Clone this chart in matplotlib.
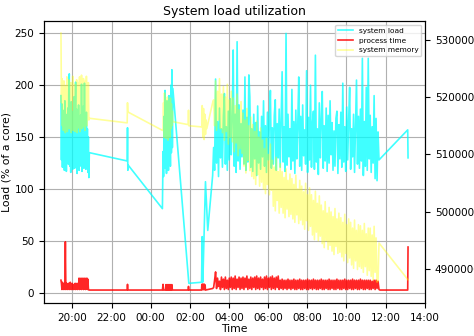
import pandas as pd
import matplotlib
matplotlib.use("Agg")
import matplotlib.pyplot as plt
import matplotlib.dates as mdates
from matplotlib.ticker import MultipleLocator

plt.rcParams['font.family'] = ['DejaVu Sans']
plt.rcParams['font.size'] = 7.5

# dense sampling blocks (start, number of samples, step)
block_a = ("2019-03-04 19:25", 59, "90s")
block_b = ("2019-03-05 00:38", 21, "90s")
block_c = ("2019-03-05 03:13", 170, "3min")

# ---- system load (% of a core) ----
load_a = [190, 128, 182, 121, 176, 134, 168, 118, 185, 126,
          172, 117, 160, 130, 178, 124, 195, 211, 122, 170,
          116, 184, 129, 165, 119, 175, 132, 189, 120, 168,
          203, 125, 177, 115, 162, 131, 181, 118, 158, 127,
          171, 122, 201, 117, 166, 134, 180, 120, 202, 126,
          163, 119, 174, 129, 158, 116, 150, 111, 135]
load_gap_t = ["22:48", "22:49", "22:50", "22:51", "00:36"]
load_gap = [127, 159, 118, 123, 81]
load_b = [136, 112, 170, 120, 195, 125, 160, 115, 185, 130,
          175, 118, 190, 128, 165, 122, 200, 135, 215, 140, 197]
load_mid_t = ["01:57", "02:36", "02:38", "02:39", "02:40", "02:48", "02:55", "03:10"]
load_mid = [9, 10, 54, 10, 11, 107, 60, 113]
load_c = [140, 118, 206, 125, 165, 112, 178, 130, 158, 121,
          170, 192, 124, 160, 118, 175, 128, 187, 133, 168,
          234, 122, 172, 116, 242, 127, 181, 119, 163, 131,
          176, 124, 208, 118, 169, 126, 210, 189, 121, 158,
          117, 172, 129, 164, 113, 180, 125, 155, 119, 170,
          131, 185, 122, 161, 116, 174, 128, 166, 195, 120,
          159, 124, 171, 186, 118, 163, 130, 177, 121, 168,
          213, 126, 160, 117, 250, 123, 172, 131, 158, 119,
          196, 127, 165, 115, 176, 129, 162, 208, 122, 170,
          118, 181, 132, 157, 124, 214, 116, 169, 128, 200,
          121, 163, 175, 119, 229, 126, 158, 114, 183, 130,
          167, 194, 120, 161, 127, 178, 117, 171, 125, 185,
          133, 164, 118, 156, 122, 168, 175, 115, 162, 129,
          174, 121, 202, 126, 160, 117, 179, 128, 166, 198,
          119, 158, 131, 172, 116, 163, 205, 124, 170, 120,
          177, 127, 226, 113, 165, 122, 198, 118, 226, 129,
          171, 116, 160, 125, 190, 110, 168, 108, 155, 128]
load_end_t = ["13:08", "13:09"]
load_end = [157, 130]

# ---- process time (% of a core) ----
proc_a = [12, 9, 3, 10, 4, 8, 3, 9, 4, 49,
          3, 9, 4, 8, 3, 9, 5, 7, 3, 10,
          4, 8, 3, 9, 5, 7, 3, 8, 4, 9,
          3, 8, 4, 9, 3, 8, 5, 14, 3, 13,
          4, 14, 3, 13, 5, 14, 3, 12, 4, 14,
          3, 13, 4, 14, 3, 13, 4, 2.5, 2.5]
proc_gap_t = ["22:48", "22:49", "22:50", "00:36"]
proc_gap = [2.5, 8, 2.5, 2.5]
proc_b = [8, 2.5, 2.5, 2.5, 2.5, 2.5, 7.7, 2.5, 7.7, 2.5,
          7.7, 2.5, 7.7, 2.5, 7.7, 2.5, 7.7, 2.5, 7.7, 2.5, 2.5]
proc_mid_t = ["01:55", "01:56", "01:57", "02:36", "02:37", "02:38", "02:39",
              "02:40", "02:41", "02:42", "02:43", "02:44", "02:45", "02:46",
              "02:47", "02:48", "03:10"]
proc_mid = [2.5, 6, 2.5, 2.5, 8, 3, 8, 3, 8, 3, 8, 3, 8, 3, 7, 2.5, 4]
proc_c = [5, 12, 20, 4, 14, 6, 11, 3, 15, 5,
          13, 3, 15, 4, 12, 3, 14, 5, 15, 3,
          14, 4, 16, 3, 13, 5, 15, 3, 14, 4,
          15, 3, 14, 5, 16, 3, 13, 4, 15, 3,
          14, 5, 15, 3, 16, 4, 14, 3, 15, 5,
          13, 3, 15, 4, 16, 3, 14, 5, 15, 3,
          16, 4, 14, 3, 15, 5, 16, 3, 12, 4,
          13, 3, 12, 4, 12, 3, 13, 4, 12, 3,
          12, 4, 13, 3, 12, 3, 12, 4, 13, 3,
          12, 3, 12, 4, 12, 3, 13, 3, 12, 4,
          12, 3, 13, 4, 12, 3, 12, 3, 12, 4,
          13, 3, 12, 3, 12, 4, 12, 3, 13, 3,
          12, 4, 12, 3, 12, 3, 13, 4, 12, 3,
          12, 3, 12, 4, 13, 3, 12, 3, 12, 4,
          12, 3, 13, 3, 12, 4, 12, 3, 12, 3,
          13, 4, 12, 3, 12, 3, 12, 4, 12, 3,
          12, 3, 11, 4, 12, 3, 12, 4, 11, 3]
proc_end_t = ["11:43", "13:08", "13:09"]
proc_end = [2.5, 2.5, 44]

# ---- system memory (thousands) ----
mem_a = [5311, 5190, 5232, 5150, 5215, 5142, 5228, 5160, 5205, 5138,
         5220, 5148, 5235, 5140, 5210, 5165, 5230, 5145, 5200, 5155,
         5225, 5138, 5212, 5150, 5236, 5142, 5205, 5160, 5222, 5140,
         5215, 5152, 5230, 5138, 5208, 5146, 5225, 5158, 5235, 5140,
         5212, 5150, 5238, 5145, 5220, 5160, 5232, 5148, 5215, 5142,
         5228, 5155, 5236, 5150, 5218, 5165, 5225, 5160, 5163]
mem_gap_t = ["22:48", "22:49", "22:50", "00:36"]
mem_gap = [5155, 5190, 5174, 5142]
mem_b = [5142, 5190, 5130, 5207, 5135, 5195, 5128, 5185, 5140, 5200,
         5125, 5192, 5138, 5180, 5130, 5198, 5145, 5188, 5150, 5175, 5157]
mem_mid_t = ["01:55", "01:56", "01:57", "02:36", "02:37", "02:38", "02:40",
             "02:42", "02:44", "02:46", "02:48", "02:50", "02:52", "03:10"]
mem_mid = [5152, 5177, 5150, 5148, 5150, 5185, 5130, 5180, 5126, 5170,
           5135, 5160, 5145, 5190]
mem_c = [5195, 5150, 5228, 5142, 5210, 5160, 5232, 5145, 5205, 5138,
         5218, 5125, 5200, 5140, 5222, 5118, 5195, 5130, 5210, 5122,
         5198, 5105, 5185, 5120, 5205, 5098, 5178, 5110, 5192, 5102,
         5172, 5080, 5160, 5068, 5180, 5090, 5150, 5072, 5165, 5062,
         5152, 5058, 5140, 5048, 5158, 5065, 5130, 5045, 5146, 5052,
         5125, 5040, 5110, 5032, 5128, 5048, 5100, 5030, 5118, 5038,
         5090, 5010, 5078, 5002, 5095, 5020, 5070, 4998, 5084, 5008,
         5070, 4998, 5060, 4990, 5075, 5005, 5055, 4992, 5066, 4996,
         5058, 4988, 5048, 4982, 5064, 4995, 5040, 4980, 5055, 4986,
         5045, 4978, 5035, 4970, 5050, 4985, 5030, 4968, 5042, 4975,
         5030, 4960, 5020, 4952, 5036, 4965, 5015, 4950, 5028, 4958,
         5012, 4945, 5002, 4938, 5018, 4950, 4998, 4935, 5008, 4942,
         5000, 4932, 4992, 4926, 5006, 4940, 4988, 4928, 4998, 4930,
         4990, 4922, 4982, 4915, 4996, 4928, 4978, 4912, 4988, 4920,
         4982, 4908, 4972, 4902, 4986, 4915, 4968, 4900, 4978, 4905,
         4976, 4902, 4968, 4895, 4980, 4905, 4962, 4890, 4972, 4898,
         4972, 4888, 4960, 4882, 4975, 4895, 4955, 4878, 4880, 4946]
mem_end_t = ["13:09"]
mem_end = [4882]


def stamp(hhmm):
    day = "2019-03-04" if int(hhmm[:2]) >= 19 else "2019-03-05"
    return pd.Timestamp(day + " " + hhmm)


def block(spec):
    start, n, step = spec
    return list(pd.date_range(start, periods=n, freq=step))


def build(a, gap_t, gap, b, mid_t, mid, c, end_t, end):
    t = (block(block_a) + [stamp(s) for s in gap_t] + block(block_b)
         + [stamp(s) for s in mid_t] + block(block_c) + [stamp(s) for s in end_t])
    v = a + gap + b + mid + c + end
    return t, v


load_t, load = build(load_a, load_gap_t, load_gap, load_b, load_mid_t, load_mid,
                     load_c, load_end_t, load_end)
proc_t, proc = build(proc_a, proc_gap_t, proc_gap, proc_b, proc_mid_t, proc_mid,
                     proc_c, proc_end_t, proc_end)
mem_t, mem = build(mem_a, mem_gap_t, mem_gap, mem_b, mem_mid_t, mem_mid,
                   mem_c, mem_end_t, mem_end)
mem = [m * 1000 for m in mem]

fig = plt.figure(figsize=(4.74, 3.36), dpi=100)
ax = fig.add_axes([44 / 474, 1 - 303 / 336, 381 / 474, 282 / 336])
ax.grid(True, color='#b0b0b0', lw=0.8)
l1, = ax.plot(load_t, load, color='cyan', alpha=0.75, lw=1.2, label='system load')
l2, = ax.plot(proc_t, proc, color='red', alpha=0.85, lw=1.2, label='process time')
ax.set_ylim(-10, 262)
ax.set_xlim(pd.Timestamp("2019-03-04 18:33"), pd.Timestamp("2019-03-05 14:01"))
ax.xaxis.set_major_locator(mdates.HourLocator(byhour=range(0, 24, 2)))
ax.xaxis.set_major_formatter(mdates.DateFormatter('%H:%M'))
ax.set_xlabel('Time', fontsize=7.8, labelpad=1)
ax.set_ylabel('Load (% of a core)', fontsize=7.8, labelpad=2)
ax.set_title('System load utilization', fontsize=9, pad=4)

ax2 = ax.twinx()
l3, = ax2.plot(mem_t, mem, color='yellow', alpha=0.4, lw=1.2, label='system memory')
ax2.set_ylim(4841700, 5332200)
ax2.yaxis.set_major_locator(MultipleLocator(100000))
ax2.ticklabel_format(axis='y', style='plain', useOffset=False)
ax2.legend(handles=[l1, l2, l3], loc='upper right', fontsize=5.3)

fig.savefig('out.png', dpi=100)
